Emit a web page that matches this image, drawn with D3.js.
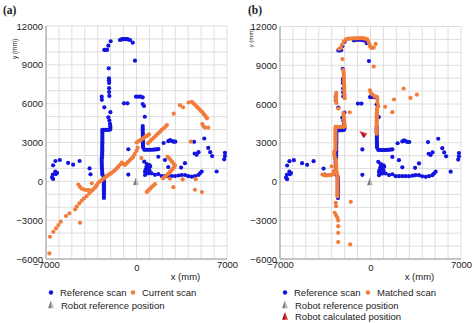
<!DOCTYPE html>
<html>
<head>
<meta charset="utf-8">
<script src="https://cdn.jsdelivr.net/npm/d3@7"></script>
<style>
body { margin: 0; background: #fff; }
text { font-family: "Liberation Sans", Arial, sans-serif; fill: #222; }
.grid line { stroke: #dedede; stroke-width: 1; }
.tick text { font-size: 9.5px; fill: #222; }
</style>
</head>
<body>
<svg width="474" height="323"></svg>
<script>

// axis ticks and grid
var xTicks = [-7000, 0, 7000];
var yTicks = [-6000, -3000, 0, 3000, 6000, 9000, 12000];
var gridStep = 1000;

// reference scan (same in both panels), mm
var refScan = [
  [-6450,1240],[-6270,1570],[-5930,1650],[-5290,1420],[-4900,1290],[-4400,1570],
  [-6280,760],[-6150,650],[-6230,560],[-6470,520],[-6530,300],[-6450,180],
  [-3630,1000],[-3560,540],
  [-2640,3970],[-2640,3820],[-2640,3670],[-2640,3520],[-2640,3370],[-2640,3220],[-2640,3070],[-2640,2920],
  [-2650,2770],[-2650,2620],[-2650,2470],[-2650,2320],[-2660,2170],[-2660,2020],[-2670,1870],
  [-2690,1720],[-2690,1570],[-2690,1420],[-2680,1270],[-2680,1120],[-2670,970],[-2660,820],[-2650,670],[-2640,520],
  [-2540,370],[-2530,220],[-2530,70],[-2520,-80],[-2520,-230],[-2520,-380],[-2520,-530],[-2520,-680],
  [-2520,-830],[-2520,-980],[-2520,-1130],[-2520,-1280],
  [-2520,3970],[-2400,3970],[-2280,3970],[-2160,3980],[-2040,4000],
  [-2020,4120],[-2030,4260],[-2050,4450],[-2100,4700],[-2180,4950],[-2020,5340],[-2490,5720],
  [-2690,6540],[-2680,6300],
  [-2100,6600],[-2120,6900],[-2120,7200],[-2120,7600],[-2130,7800],[-2130,7950],[-2150,8730],
  [-2490,10150],[-2380,10150],[-2270,10160],[-2180,10480],[-2000,10820],
  [-1280,10920],[-1170,10960],[-1060,10980],[-950,10980],[-840,10980],[-720,10980],[-610,10950],[-500,10920],[-290,10710],
  [-120,9320],
  [-970,6030],[-700,6030],
  [-40,6540],[140,6540],[320,6540],[480,6490],[480,5975],[580,5820],[640,4990],
  [480,4270],[480,4120],[480,3970],[480,3820],[490,3670],[490,3520],[490,3370],[490,3220],[500,3070],[500,2920],[500,2770],[510,2620],
  [600,2440],[720,2440],[840,2440],[960,2440],[1080,2440],[1200,2440],[1320,2450],[1440,2460],[1560,2470],[1690,2490],
  [-630,2480],[-630,520],
  [2100,2960],[2460,3100],[2600,3190],[2740,3110],[2870,3060],[3000,3060],
  [4450,3050],[5240,3310],
  [1690,1900],[2200,1650],[2460,1100],
  [4500,2150],[4650,2050],[4800,2250],
  [5550,2580],[5700,2250],[5850,1950],
  [6840,2200],[6840,1950],[6780,1700],[6200,760],
  [600,1520],[800,1340],[1000,1260],[760,1100],[920,1000],[1060,1150],[700,880],[1000,850],
  [660,740],[660,490],[800,650],[930,620],[1170,620],[1430,500],[1690,560],
  [1950,410],[2200,410],[2460,410],[2720,410],[2980,410],[3250,450],[3490,490],[3750,490],[4000,400],
  [4270,360],[4520,410],[4780,490],[4910,620],[5040,760],
  [3750,1400],[3450,1060]
];

// current scan, panel (a)
var currentScan = [
  [-6740,-5570],[-6690,-4280],[-6430,-3900],[-6220,-3630],[-6040,-3380],[-5860,-3120],[-5450,-2680],[-5190,-2470],
  [-4750,-2160],[-4620,-1960],[-4420,-1700],[-4240,-1500],[-4060,-1310],[-3850,-1140],[-3650,-930],[-3460,-730],
  [-3340,-620],[-3200,-470],[-3080,-300],[-2950,-110],[-2820,0],[-2690,100],[-2560,200],[-2430,310],[-2300,400],
  [-2180,490],[-2050,570],[-1920,660],[-1790,760],[-1660,870],[-1530,1000],[-1410,1130],[-1270,1290],[-1140,1440],
  [-1010,1350],[-890,1260],[-760,1390],[-630,1520],[-500,1650],[-370,1780],[-250,1900],[-150,2100],[0,2350],[90,2600],
  [-4370,-3200],
  [-4500,-250],[-4370,-430],[-4240,-560],[-4050,-640],[-3850,-670],[-3650,-670],[-3460,-150],
  [15,3000],[130,3080],[250,3150],[370,3230],[490,3310],[610,3390],[730,3470],[850,3550],[970,3630],
  [900,2950],[1050,3100],[1200,3250],[1350,3380],[1500,3530],[1650,3680],[1800,3820],[1950,3970],[2100,4100],[2250,4230],[2350,4350],
  [2880,5230],[3360,5880],[3600,5720],[4030,6090],[4270,6150],[4400,6030],[4500,5930],[4600,5830],[4700,5730],
  [4800,5630],[4900,5530],[5000,5430],[5100,5330],[5200,5200],[5300,5080],[5400,4950],[5450,4870],
  [5090,4430],[5200,4250],[5300,4150],[5550,4150],[4200,3060],
  [380,1800],
  [2400,1900],[2520,1780],[2640,1640],[2760,1500],[2880,1360],[2980,1220],[2900,1080],[2800,960],[2700,840],
  [2580,710],[2460,590],[2340,470],[2200,350],[2050,230],
  [2590,200],[3570,150],[4580,170],
  [2850,-450],
  [790,-820],[900,-720],[1000,-620],[1100,-520],[1200,-420],[1300,-320],[1430,-220],
  [4520,-650],[5060,-830]
];

// matched scan, panel (b)
var matchedScan = [
  [-2430,10260],[-2300,10340],[-2190,10600],[-2060,10860],[-1900,11000],[-1750,11040],[-1600,11060],[-1450,11070],
  [-1300,11080],[-1150,11080],[-1000,11090],[-850,11100],[-700,11100],[-550,11080],[-400,11060],[-250,11000],
  [-150,10800],[-80,10600],[-20,10440],[100,10340],[250,10370],[400,10650],
  [250,8900],[-2170,9480],
  [-2100,8650],[-2080,8480],[-2070,8310],[-2060,8140],[-2050,7970],[-2050,7800],[-2040,7630],[-2040,7460],
  [-2040,7290],[-2030,7120],[-2030,6950],[-2020,6780],[-2010,6610],[-2000,6450],
  [-2640,6860],[-2650,6700],[-2660,6550],[-2660,6400],[-2650,6250],[-2640,6080],[-2480,5650],
  [-1600,5360],
  [-2100,5300],[-2080,5150],[-2060,5000],[-2050,4850],[-2030,4700],[-2020,4550],[-2000,4400],
  [-2700,4230],[-2580,4230],[-2460,4230],[-2340,4230],[-2220,4230],[-2100,4230],[-1980,4260],
  [-2710,4100],[-2710,3950],[-2710,3800],[-2710,3650],[-2710,3500],[-2710,3350],[-2710,3200],[-2710,3050],
  [-2710,2900],[-2710,2750],[-2710,2600],[-2720,2450],
  [-2800,2300],[-2800,2150],[-2790,2000],[-2760,1850],
  [-2660,1700],[-2660,1550],[-2660,1400],[-2660,1250],[-2650,1100],[-2650,950],[-2640,800],[-2620,650],
  [-2570,500],[-2560,350],[-2560,200],[-2560,50],[-2560,-100],[-2560,-250],[-2560,-400],[-2560,-550],
  [-2560,-700],[-2560,-850],[-2560,-1000],[-2560,-1150],
  [-3720,540],[-3600,500],[-3480,480],[-3360,480],[-3240,490],[-3120,500],[-3000,520],[-2880,580],[-2850,800],[-3000,1180],
  [-2690,-1650],[-2660,-1910],[-2770,-2420],[-2660,-2630],[-2560,-2810],[-2500,-3010],[-2500,-3460],[-2500,-3970],
  [-2500,-4690],[-1530,-1570],[-1570,-4870],
  [-50,7060],[25,6860],[155,6730],[330,6590],[490,6550],[540,6340],[540,6080],[600,5820],
  [500,5650],[500,5500],[490,5350],[490,5200],[490,5050],[480,4900],[480,4750],[480,4600],[480,4450],
  [480,4300],[480,4150],[480,4000],[480,3850],[480,3700],
  [1130,5780],[1820,6350],[1690,5370],[2560,7200],[3090,6470],[3590,6720]
];

var robotRef = [0, 0];
var robotCalc = [-580, 3690];

var blue = "#1414e0", orange = "#f27d3b";

var svg = d3.select("svg");
svg.append("rect").attr("width", 474).attr("height", 323).attr("fill", "#fff");

var defs = svg.append("defs");
function grad(id, c1, c2) {
  var lg = defs.append("linearGradient").attr("id", id)
      .attr("x1", "0").attr("x2", "1").attr("y1", "0").attr("y2", "0");
  lg.append("stop").attr("offset", "0.5").attr("stop-color", c1);
  lg.append("stop").attr("offset", "0.5").attr("stop-color", c2);
}
grad("gGray", "#7d7d7d", "#b9b9b9");
grad("gRed", "#a3121b", "#e0343a");

var triPath = "M0,-4.5L3,3.2L-3,3.2Z";
var fmt = d3.format("d");

function panel(cfg) {
  var x = d3.scaleLinear().domain([-7000, 7000]).range([cfg.left, cfg.right]);
  var y = d3.scaleLinear().domain([-6000, 12000]).range([cfg.bottom, cfg.top]);
  var g = svg.append("g");

  // grid
  var grid = g.append("g").attr("class", "grid");
  grid.selectAll(".vx").data(d3.range(-7000, 7001, gridStep)).join("line")
      .attr("x1", d => x(d)).attr("x2", d => x(d))
      .attr("y1", cfg.top).attr("y2", cfg.bottom);
  grid.selectAll(".hy").data(d3.range(-6000, 12001, gridStep)).join("line")
      .attr("y1", d => y(d)).attr("y2", d => y(d))
      .attr("x1", cfg.left).attr("x2", cfg.right);

  // axes
  var xa = g.append("g").attr("transform", "translate(0," + cfg.bottom + ")")
      .call(d3.axisBottom(x).tickValues(xTicks).tickFormat(fmt).tickSize(0).tickPadding(2));
  xa.select(".domain").remove();
  xa.selectAll(".tick text").attr("dy", d => d === 0 ? "1.0em" : "0.71em");

  var ya = g.append("g").attr("transform", "translate(" + cfg.left + ",0)")
      .call(d3.axisLeft(y).tickValues(yTicks).tickFormat(fmt).tickSize(0).tickPadding(3));
  ya.select(".domain").remove();

  g.append("line").attr("x1", cfg.left).attr("x2", cfg.left)
      .attr("y1", cfg.top).attr("y2", cfg.bottom).attr("stroke", "#9a9a9a");
  g.append("line").attr("x1", cfg.left).attr("x2", cfg.right)
      .attr("y1", cfg.bottom).attr("y2", cfg.bottom).attr("stroke", "#9a9a9a");

  // axis titles
  g.append("text").attr("x", (cfg.left + cfg.right) / 2 + 49).attr("y", cfg.bottom + 21)
      .attr("text-anchor", "middle").style("font-size", "9.5px").text("x (mm)");
  g.append("text").attr("transform", "translate(" + cfg.yTitleX + "," + cfg.yTitleY + ") rotate(-90)")
      .attr("text-anchor", "middle").style("font-size", cfg.yTitleSize).text("y (mm)");

  // panel letter
  g.append("text").attr("x", cfg.letterX).attr("y", 14)
      .style("font-family", "'Liberation Serif', 'DejaVu Serif', serif")
      .style("font-weight", "bold").style("font-size", "11.5px").text(cfg.letter);

  // scans
  g.append("g").selectAll("circle").data(refScan).join("circle")
      .attr("cx", d => x(d[0])).attr("cy", d => y(d[1])).attr("r", 2.1).attr("fill", blue);
  g.append("g").selectAll("circle").data(cfg.scan).join("circle")
      .attr("cx", d => x(d[0])).attr("cy", d => y(d[1])).attr("r", 2.1).attr("fill", orange);

  // robot positions
  g.append("path").attr("d", triPath).attr("fill", "url(#gGray)")
      .attr("transform", "translate(" + (x(robotRef[0]) - 0.5) + "," + (y(robotRef[1]) + 0.5) + ")");
  if (cfg.calc) {
    g.append("path").attr("d", triPath).attr("fill", "url(#gRed)")
        .attr("transform", "translate(" + x(robotCalc[0]) + "," + y(robotCalc[1]) + ") rotate(-52)");
  }

  // legend
  var lx = cfg.left + 5;
  var lg = g.append("g").style("font-size", "9.5px");
  lg.append("circle").attr("cx", lx).attr("cy", 292.5).attr("r", 2.2).attr("fill", blue);
  lg.append("text").attr("x", lx + 9).attr("y", 296).text("Reference scan");
  lg.append("circle").attr("cx", lx + cfg.leg2).attr("cy", 292.5).attr("r", 2.2).attr("fill", orange);
  lg.append("text").attr("x", lx + cfg.leg2 + 9).attr("y", 296).text(cfg.scanName);
  lg.append("path").attr("d", triPath).attr("fill", "url(#gGray)")
      .attr("transform", "translate(" + lx + ",305)");
  lg.append("text").attr("x", lx + 10).attr("y", 308.5).text("Robot reference position");
  if (cfg.calc) {
    lg.append("path").attr("d", triPath).attr("fill", "url(#gRed)")
        .attr("transform", "translate(" + lx + ",316.5)");
    lg.append("text").attr("x", lx + 10).attr("y", 320).text("Robot calculated position");
  }
}

panel({ left: 46, right: 227, top: 26, bottom: 259, scan: currentScan, scanName: "Current scan",
        calc: false, letter: "(a)", letterX: 3, yTitleX: 17, yTitleY: 49, yTitleSize: "6.5px", leg2: 82 });
panel({ left: 280, right: 461, top: 26.5, bottom: 259, scan: matchedScan, scanName: "Matched scan",
        calc: true, letter: "(b)", letterX: 248, yTitleX: 253, yTitleY: 38, yTitleSize: "6px", leg2: 83 });

</script>
</body>
</html>
